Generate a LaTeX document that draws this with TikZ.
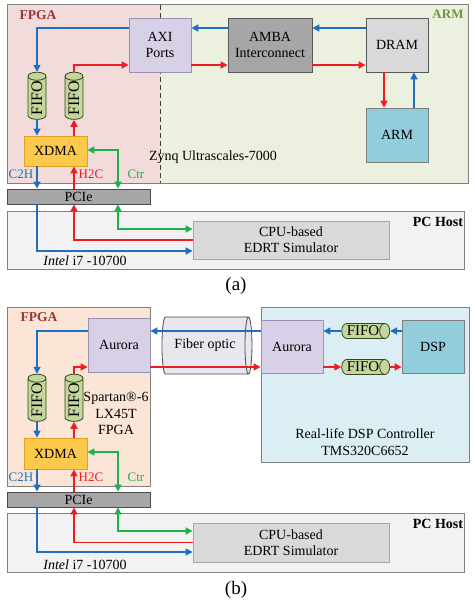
\documentclass[tikz,border=0pt]{standalone}
\usepackage{fontspec}
\setmainfont{Liberation Serif}
\usetikzlibrary{arrows.meta,shapes.geometric,calc}
\definecolor{cblue}{HTML}{1F6FC1}
\definecolor{cred}{HTML}{EE1C24}
\definecolor{cgreen}{HTML}{1DB04B}
\definecolor{pinkbg}{HTML}{F2DCDB}
\definecolor{greenbg}{HTML}{EBF1DE}
\definecolor{peachbg}{HTML}{FBE5D6}
\definecolor{dspbg}{HTML}{DBEEF4}
\definecolor{hostbg}{HTML}{F2F2F2}
\definecolor{lav}{HTML}{D8D0E6}
\definecolor{lavborder}{HTML}{9A90B4}
\definecolor{ambafill}{HTML}{A6A6A6}
\definecolor{dramfill}{HTML}{D9D9D9}
\definecolor{armfill}{HTML}{92CDDC}
\definecolor{xdmafill}{HTML}{FCC94A}
\definecolor{xdmaborder}{HTML}{E0A020}
\definecolor{fifofill}{HTML}{C4D79B}
\definecolor{fifoborder}{HTML}{3A4520}
\definecolor{simfill}{HTML}{D9D9D9}
\definecolor{pciefill}{HTML}{A6A6A6}
\definecolor{regborder}{HTML}{7F7F7F}
\definecolor{fpgared}{HTML}{953735}
\definecolor{armgreen}{HTML}{77933C}
\definecolor{fiberfill}{HTML}{E8E6EE}
\newcommand{\fsz}[1]{\fontsize{#1}{16}\selectfont}
\tikzset{
  blk/.style={draw=regborder, line width=0.8pt, align=center, inner sep=0pt, font=\fsz{14}},
  region/.style={draw=regborder, line width=1pt, inner sep=0pt},
  arr/.style={line width=1.6pt, -{Triangle[length=7pt,width=7pt]}},
  darr/.style={line width=1.6pt, {Triangle[length=7pt,width=7pt]}-{Triangle[length=7pt,width=7pt]}},
  fifo/.style={cylinder, draw=fifoborder, fill=fifofill, line width=0.8pt, inner sep=0pt},
  vfifo/.style={fifo, rotate=90, shape aspect=0.75, minimum height=41pt, minimum width=18pt, font=\fsz{16}},
  hfifo/.style={fifo, shape aspect=1.0, minimum height=43pt, minimum width=15pt, font=\fsz{15}},
  lbl/.style={inner sep=0pt, font=\fsz{14}},
  sublbl/.style={inner sep=0pt, font=\fsz{13}},
}
\begin{document}
\begin{tikzpicture}[x=1pt,y=-1pt]
\useasboundingbox (0,0) rectangle (474,604);
% ===================== (a) =====================
\fill[pinkbg] (7,5) rectangle (160,183);
\fill[greenbg] (160,5) rectangle (468,183);
\draw[regborder, line width=1pt] (7,5) rectangle (468,183);
\draw[black!75, line width=0.9pt, dash pattern=on 5pt off 3pt] (160,5) -- (160,183);
\node[inner sep=0pt, font=\bfseries\fsz{13.5}, text=fpgared] (fpgaA) at (38,15) {FPGA};
\node[inner sep=0pt, font=\bfseries\fsz{13}, text=armgreen] (armA) at (448,14) {ARM};
\node[lbl] (zynq) at (213,157) {Zynq Ultrascales-7000};

\node[blk, fill=lav, draw=lavborder, minimum width=62pt, minimum height=54pt] (axi) at (160,45) {AXI\\Ports};
\node[blk, fill=ambafill, draw=black!65, minimum width=84pt, minimum height=54pt] (amba) at (270,45) {AMBA\\Interconnect};
\node[blk, fill=dramfill, draw=black!65, minimum width=62pt, minimum height=54pt] (dram) at (397,45) {DRAM};
\node[blk, fill=armfill, draw=regborder, minimum width=62pt, minimum height=54pt] (arm) at (397,135) {ARM};

\node[vfifo] (fifoA) at (37,98) {FIFO};
\node[vfifo] (fifoB) at (74,98) {FIFO};
\node[blk, fill=xdmafill, draw=xdmaborder, minimum width=63pt, minimum height=30pt] (xdma) at (55.5,151) {XDMA};
\node[blk, fill=pciefill, draw=black!70, minimum width=143pt, minimum height=15pt] (pcie) at (78.5,196.5) {PCIe};
\node[sublbl, text=cblue] (c2hA) at (21,174) {C2H};
\node[sublbl, text=cred] (h2cA) at (91,174) {H2C};
\node[sublbl, text=cgreen] (ctrA) at (136,174) {Ctr};

\node[region, fill=hostbg, minimum width=457pt, minimum height=58pt] (hostA) at (235.5,240) {};
\node[blk, fill=simfill, draw=black!35, minimum width=196pt, minimum height=38pt] (sim) at (291,240) {CPU-based\\EDRT Simulator};
\node[inner sep=0pt, font=\bfseries\fsz{14}] (pchA) at (438,222) {PC Host};
\node[lbl] (intelA) at (85,261) {\textit{Intel} i7 -10700};
\node[inner sep=0pt, font=\fsz{19}] (capA) at (236,286) {(a)};

% arrows (a)
\draw[arr, cblue] ([yshift=17pt]dram.west) -- ([yshift=17pt]amba.east);
\draw[arr, cblue] ([yshift=17pt]amba.west) -- ([yshift=17pt]axi.east);
\draw[arr, cblue] ([yshift=17pt]axi.west) -| (fifoA.top);
\draw[arr, cred] (fifoB.top) |- ([yshift=-20pt]axi.west);
\draw[arr, cred] ([yshift=-20pt]axi.east) -- ([yshift=-20pt]amba.west);
\draw[arr, cred] ([yshift=-20pt]amba.east) -- ([yshift=-20pt]dram.west);
\draw[arr, cred] ([xshift=-13pt]dram.south) -- ([xshift=-13pt]arm.north);
\draw[arr, cblue] ([xshift=17pt]arm.north) -- ([xshift=17pt]dram.south);
\draw[arr, cblue] (fifoA.bottom) -- (fifoA.bottom |- xdma.north);
\draw[arr, cred] (fifoB.bottom |- xdma.north) -- (fifoB.bottom);
\draw[arr, cblue] (fifoA.center |- xdma.south) -- (fifoA.center |- pcie.north);
\draw[arr, cred] (fifoB.center |- pcie.north) -- (fifoB.center |- xdma.south);
\draw[darr, cgreen] ([yshift=1pt]xdma.east) -| ([xshift=39.5pt]pcie.north);
\draw[darr, cgreen] ([xshift=39.5pt]pcie.south) |- ([yshift=11pt]sim.west);
\draw[arr, cred] (sim.west) -| (fifoB.center |- pcie.south);
\draw[arr, cblue] (fifoA.center |- pcie.south) |- ([yshift=-11pt]sim.west);

% ===================== (b) =====================
\node[region, fill=peachbg, minimum width=143pt, minimum height=179pt] (fpgaB) at (78.5,396.5) {};
\node[region, fill=dspbg, minimum width=208pt, minimum height=155pt] (dspreg) at (365,384.5) {};
\node[inner sep=0pt, font=\bfseries\fsz{13.5}, text=fpgared] (fpgaBl) at (39,317) {FPGA};

\node[cylinder, draw=black!70, fill=fiberfill, line width=0.8pt, shape aspect=0.55, minimum height=90pt, minimum width=57pt, inner sep=0pt, font=\fsz{14}] (fiber) at (205,345.5) {Fiber optic};

\node[blk, fill=lav, draw=lavborder, minimum width=62pt, minimum height=54pt] (aurL) at (119,345) {Aurora};
\node[blk, fill=lav, draw=lavborder, minimum width=62pt, minimum height=53pt] (aurR) at (292,346.5) {Aurora};
\node[blk, fill=armfill, draw=regborder, minimum width=62pt, minimum height=53pt] (dsp) at (433,346.5) {DSP};
\node[hfifo] (fifoE) at (363,331) {FIFO};
\node[hfifo] (fifoF) at (363,367) {FIFO};
\node[lbl, align=center, font=\fontsize{14}{17}\selectfont] (dsptxt) at (365,442.5) {Real-life DSP Controller\\TMS320C6652};

\node[vfifo] (fifoC) at (37,400) {FIFO};
\node[vfifo] (fifoD) at (74,400) {FIFO};
\node[lbl, align=center, font=\fontsize{14}{16.5}\selectfont] (spartan) at (116,413.5) {Spartan®-6\\LX45T\\FPGA};
\node[blk, fill=xdmafill, draw=xdmaborder, minimum width=63pt, minimum height=31pt] (xdmaB) at (55.5,453.5) {XDMA};
\node[blk, fill=pciefill, draw=black!70, minimum width=143pt, minimum height=15pt] (pcieB) at (78.5,499.5) {PCIe};
\node[sublbl, text=cblue] (c2hB) at (21,477) {C2H};
\node[sublbl, text=cred] (h2cB) at (91,477) {H2C};
\node[sublbl, text=cgreen] (ctrB) at (136,477) {Ctr};

\node[region, fill=hostbg, minimum width=457pt, minimum height=59pt] (hostB) at (235.5,542.5) {};
\node[blk, fill=simfill, draw=black!35, minimum width=196pt, minimum height=39pt] (simB) at (291,542.5) {CPU-based\\EDRT Simulator};
\node[inner sep=0pt, font=\bfseries\fsz{14}] (pchB) at (438,524) {PC Host};
\node[lbl] (intelB) at (85,565) {\textit{Intel} i7 -10700};
\node[inner sep=0pt, font=\fsz{19}] (capB) at (236,590) {(b)};

% arrows (b)
\draw[arr, cblue] ([yshift=15.5pt]dsp.west) -- (fifoE.top);
\draw[arr, cblue] (fifoE.bottom) -- (fifoE.bottom -| aurR.east);
\draw[arr, cred] (fifoF.bottom -| aurR.east) -- (fifoF.bottom);
\draw[arr, cred] (fifoF.top) -- (fifoF.top -| dsp.west);
\draw[arr, cblue] ([yshift=15.5pt]aurR.west) -- ([yshift=15.5pt]aurR.west -| aurL.east);
\draw[arr, cred] ([yshift=-22pt]aurL.east) -- ([yshift=-22pt]aurL.east -| aurR.west);
\draw[arr, cblue] ([yshift=14pt]aurL.west) -| (fifoC.top);
\draw[arr, cred] (fifoD.top) |- ([yshift=-22pt]aurL.west);
\draw[arr, cblue] (fifoC.bottom) -- (fifoC.bottom |- xdmaB.north);
\draw[arr, cred] (fifoD.bottom |- xdmaB.north) -- (fifoD.bottom);
\draw[arr, cblue] (fifoC.center |- xdmaB.south) -- (fifoC.center |- pcieB.north);
\draw[arr, cred] (fifoD.center |- pcieB.north) -- (fifoD.center |- xdmaB.south);
\draw[darr, cgreen] ([yshift=1.5pt]xdmaB.east) -| ([xshift=39.5pt]pcieB.north);
\draw[darr, cgreen] ([xshift=39.5pt]pcieB.south) |- ([yshift=11.5pt]simB.west);
\draw[arr, cred] (simB.west) -| (fifoD.center |- pcieB.south);
\draw[arr, cblue] (fifoC.center |- pcieB.south) |- ([yshift=-9.5pt]simB.west);
\end{tikzpicture}
\end{document}
